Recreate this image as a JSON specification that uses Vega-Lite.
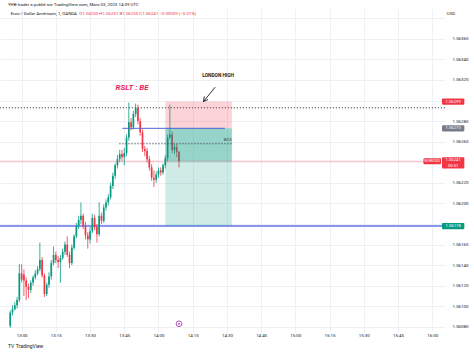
{
  "$schema": "https://vega.github.io/schema/vega-lite/v6.json",
  "width": 445,
  "height": 323,
  "autosize": {"type": "none"},
  "padding": {"left": 0, "top": 9, "right": 29, "bottom": 21},
  "background": "#ffffff",
  "config": {"view": {"stroke": null}, "font": "Roboto"},
  "resolve": {"axis": {"x": "independent", "y": "independent"}},
  "datasets": {
    "candles": [
      {"time": "12:55", "m": -5, "o": 1.06081, "h": 1.06096, "l": 1.06079, "c": 1.06094},
      {"time": "12:56", "m": -4, "o": 1.06094, "h": 1.06101, "l": 1.06091, "c": 1.06097},
      {"time": "12:57", "m": -3, "o": 1.06097, "h": 1.06104, "l": 1.06096, "c": 1.06101},
      {"time": "12:58", "m": -2, "o": 1.06101, "h": 1.06109, "l": 1.06098, "c": 1.06106},
      {"time": "12:59", "m": -1, "o": 1.06106, "h": 1.06141, "l": 1.06104, "c": 1.06132},
      {"time": "13:00", "m": 0, "o": 1.06132, "h": 1.06141, "l": 1.06123, "c": 1.06126},
      {"time": "13:01", "m": 1, "o": 1.06131, "h": 1.06136, "l": 1.0611, "c": 1.06125},
      {"time": "13:02", "m": 2, "o": 1.06125, "h": 1.06128, "l": 1.06106, "c": 1.06119},
      {"time": "13:03", "m": 3, "o": 1.06119, "h": 1.06122, "l": 1.06108, "c": 1.06116},
      {"time": "13:04", "m": 4, "o": 1.06116, "h": 1.06125, "l": 1.06113, "c": 1.06123},
      {"time": "13:05", "m": 5, "o": 1.06123, "h": 1.0613, "l": 1.0612, "c": 1.06128},
      {"time": "13:06", "m": 6, "o": 1.06128, "h": 1.06135, "l": 1.06126, "c": 1.06132},
      {"time": "13:07", "m": 7, "o": 1.06132, "h": 1.06139, "l": 1.0613, "c": 1.06136},
      {"time": "13:08", "m": 8, "o": 1.06136, "h": 1.06162, "l": 1.06134, "c": 1.06145},
      {"time": "13:09", "m": 9, "o": 1.06145, "h": 1.06148, "l": 1.06128, "c": 1.0613},
      {"time": "13:10", "m": 10, "o": 1.0613, "h": 1.06132, "l": 1.06109, "c": 1.06112},
      {"time": "13:11", "m": 11, "o": 1.06112, "h": 1.06123, "l": 1.0611, "c": 1.06121},
      {"time": "13:12", "m": 12, "o": 1.06121, "h": 1.06133, "l": 1.06118, "c": 1.06129},
      {"time": "13:13", "m": 13, "o": 1.06129, "h": 1.06145, "l": 1.06126, "c": 1.06142},
      {"time": "13:14", "m": 14, "o": 1.06142, "h": 1.06158, "l": 1.0614, "c": 1.0615},
      {"time": "13:15", "m": 15, "o": 1.0615, "h": 1.06153, "l": 1.06142, "c": 1.06145},
      {"time": "13:16", "m": 16, "o": 1.06145, "h": 1.06149, "l": 1.06137, "c": 1.06143},
      {"time": "13:17", "m": 17, "o": 1.06143, "h": 1.0615, "l": 1.06123, "c": 1.06147},
      {"time": "13:18", "m": 18, "o": 1.06147, "h": 1.06156, "l": 1.06145, "c": 1.06153},
      {"time": "13:19", "m": 19, "o": 1.06153, "h": 1.06163, "l": 1.0615, "c": 1.0616},
      {"time": "13:20", "m": 20, "o": 1.0616, "h": 1.06168, "l": 1.06148, "c": 1.0615},
      {"time": "13:21", "m": 21, "o": 1.0615, "h": 1.06153, "l": 1.06137, "c": 1.06142},
      {"time": "13:22", "m": 22, "o": 1.06142, "h": 1.0616, "l": 1.0614, "c": 1.06157},
      {"time": "13:23", "m": 23, "o": 1.06157, "h": 1.0617, "l": 1.06155, "c": 1.06168},
      {"time": "13:24", "m": 24, "o": 1.06168, "h": 1.06181, "l": 1.06166, "c": 1.06178},
      {"time": "13:25", "m": 25, "o": 1.06178, "h": 1.06188, "l": 1.06175, "c": 1.06184},
      {"time": "13:26", "m": 26, "o": 1.06184, "h": 1.06201, "l": 1.0618, "c": 1.06188},
      {"time": "13:27", "m": 27, "o": 1.06188, "h": 1.0619, "l": 1.06175, "c": 1.06178},
      {"time": "13:28", "m": 28, "o": 1.06178, "h": 1.06182, "l": 1.06165, "c": 1.06169},
      {"time": "13:29", "m": 29, "o": 1.06169, "h": 1.06172, "l": 1.06156, "c": 1.06165},
      {"time": "13:30", "m": 30, "o": 1.06165, "h": 1.06177, "l": 1.06161, "c": 1.06173},
      {"time": "13:31", "m": 31, "o": 1.06173, "h": 1.0619, "l": 1.06171, "c": 1.06186},
      {"time": "13:32", "m": 32, "o": 1.06186, "h": 1.06189, "l": 1.06174, "c": 1.06177},
      {"time": "13:33", "m": 33, "o": 1.06177, "h": 1.0618, "l": 1.06162, "c": 1.0617},
      {"time": "13:34", "m": 34, "o": 1.0617, "h": 1.06201, "l": 1.06168, "c": 1.06188},
      {"time": "13:35", "m": 35, "o": 1.06188, "h": 1.06191, "l": 1.0618, "c": 1.06183},
      {"time": "13:36", "m": 36, "o": 1.06183, "h": 1.06199, "l": 1.06181, "c": 1.06196},
      {"time": "13:37", "m": 37, "o": 1.06196, "h": 1.06204, "l": 1.06193, "c": 1.06201},
      {"time": "13:38", "m": 38, "o": 1.06201, "h": 1.06209, "l": 1.06198, "c": 1.06206},
      {"time": "13:39", "m": 39, "o": 1.06206, "h": 1.0622, "l": 1.06204, "c": 1.06217},
      {"time": "13:40", "m": 40, "o": 1.06217, "h": 1.0623, "l": 1.06214, "c": 1.06227},
      {"time": "13:41", "m": 41, "o": 1.06227, "h": 1.06239, "l": 1.06224, "c": 1.06237},
      {"time": "13:42", "m": 42, "o": 1.06237, "h": 1.06247, "l": 1.06234, "c": 1.06243},
      {"time": "13:43", "m": 43, "o": 1.06243, "h": 1.06252, "l": 1.0624, "c": 1.06248},
      {"time": "13:44", "m": 44, "o": 1.06248, "h": 1.06252, "l": 1.06241, "c": 1.06245},
      {"time": "13:45", "m": 45, "o": 1.06245, "h": 1.06254, "l": 1.06237, "c": 1.06249},
      {"time": "13:46", "m": 46, "o": 1.06249, "h": 1.06267, "l": 1.06246, "c": 1.06264},
      {"time": "13:47", "m": 47, "o": 1.06264, "h": 1.06298, "l": 1.06261, "c": 1.06279},
      {"time": "13:48", "m": 48, "o": 1.06279, "h": 1.06283, "l": 1.06271, "c": 1.06274},
      {"time": "13:49", "m": 49, "o": 1.06274, "h": 1.0629, "l": 1.06272, "c": 1.06287},
      {"time": "13:50", "m": 50, "o": 1.06287, "h": 1.06297, "l": 1.06284, "c": 1.06293},
      {"time": "13:51", "m": 51, "o": 1.06293, "h": 1.06296, "l": 1.06277, "c": 1.0628},
      {"time": "13:52", "m": 52, "o": 1.0628, "h": 1.06283, "l": 1.06266, "c": 1.06269},
      {"time": "13:53", "m": 53, "o": 1.06269, "h": 1.06272, "l": 1.0625, "c": 1.06253},
      {"time": "13:54", "m": 54, "o": 1.06253, "h": 1.06256, "l": 1.06246, "c": 1.06251},
      {"time": "13:55", "m": 55, "o": 1.06251, "h": 1.06254, "l": 1.0624, "c": 1.06243},
      {"time": "13:56", "m": 56, "o": 1.06243, "h": 1.06246, "l": 1.06232, "c": 1.06235},
      {"time": "13:57", "m": 57, "o": 1.06235, "h": 1.06238, "l": 1.06222, "c": 1.06225},
      {"time": "13:58", "m": 58, "o": 1.06225, "h": 1.06232, "l": 1.06216, "c": 1.06223},
      {"time": "13:59", "m": 59, "o": 1.06223, "h": 1.06231, "l": 1.0622, "c": 1.06228},
      {"time": "14:00", "m": 60, "o": 1.06228, "h": 1.06235, "l": 1.06225, "c": 1.06232},
      {"time": "14:01", "m": 61, "o": 1.06232, "h": 1.06235, "l": 1.06227, "c": 1.0623},
      {"time": "14:02", "m": 62, "o": 1.0623, "h": 1.06239, "l": 1.06228, "c": 1.06237},
      {"time": "14:03", "m": 63, "o": 1.06237, "h": 1.06247, "l": 1.06234, "c": 1.06244},
      {"time": "14:04", "m": 64, "o": 1.06244, "h": 1.06267, "l": 1.06241, "c": 1.06264},
      {"time": "14:05", "m": 65, "o": 1.06264, "h": 1.06296, "l": 1.06262, "c": 1.06267},
      {"time": "14:06", "m": 66, "o": 1.06267, "h": 1.0627, "l": 1.06249, "c": 1.06252},
      {"time": "14:07", "m": 67, "o": 1.06252, "h": 1.06258, "l": 1.06248, "c": 1.06255},
      {"time": "14:08", "m": 68, "o": 1.06255, "h": 1.06258, "l": 1.06245, "c": 1.0625},
      {"time": "14:09", "m": 69, "o": 1.0625, "h": 1.06251, "l": 1.06235, "c": 1.06241}
    ]
  },
  "layer": [
    {
      "data": {"values": [{"p": 1.06178}]},
      "mark": {"type": "rule", "color": "#8a97f0", "strokeWidth": 2},
      "encoding": {
        "y": {"field": "p", "type": "quantitative",
          "scale": {"domain": [1.06075, 1.06389], "zero": false, "nice": false},
          "axis": {"orient": "right", "title": null, "values": [1.0608, 1.061, 1.0612, 1.0614, 1.0616, 1.0618, 1.062, 1.0622, 1.0624, 1.0626, 1.0628, 1.063, 1.0632, 1.0634, 1.0636, 1.0638],
            "labelExpr": "(datum.value > 1.06375 || abs(datum.value - 1.063) < 0.00001 || abs(datum.value - 1.0624) < 0.00001 || abs(datum.value - 1.0618) < 0.00001) ? '' : format(datum.value, '.5f')",
            "domain": false, "ticks": false, "grid": true, "gridColor": "#eef0f5", "gridWidth": 1,
            "labelFont": "Roboto", "labelFontSize": 4.4, "labelColor": "#131722", "labelPadding": 7, "labelAlign": "left", "labelBaseline": "middle", "labelOverlap": false, "zindex": 0}}
      }
    },
    {
      "data": {"values": [{"p": 1.06293}]},
      "mark": {"type": "rule", "color": "#434651", "strokeWidth": 1, "strokeDash": [1.2, 1.8]},
      "encoding": {"y": {"field": "p", "type": "quantitative", "axis": null}}
    },
    {
      "data": {"values": [{"p": 1.06241}]},
      "mark": {"type": "rule", "color": "#f23645", "strokeWidth": 0.8, "opacity": 0.45},
      "encoding": {"y": {"field": "p", "type": "quantitative", "axis": null}}
    },
    {
      "data": {"name": "candles"},
      "mark": {"type": "rule", "strokeWidth": 0.8},
      "encoding": {
        "x": {"field": "m", "type": "quantitative",
          "scale": {"domain": [-7.29, 183.43], "zero": false, "nice": false},
          "axis": {"orient": "bottom", "title": null, "values": [0, 15, 30, 45, 60, 75, 90, 105, 120, 135, 150, 165, 180],
            "labelExpr": "(13 + floor(datum.value / 60)) + ':' + (datum.value % 60 < 10 ? '0' : '') + (datum.value % 60)",
            "domain": false, "ticks": false, "grid": true, "gridColor": "#eef0f5", "gridWidth": 1,
            "labelFont": "Roboto", "labelFontSize": 4.4, "labelColor": "#131722", "labelPadding": 1, "labelOverlap": false, "labelFlush": false, "zindex": 0}},
        "y": {"field": "l", "type": "quantitative", "axis": null},
        "y2": {"field": "h"},
        "color": {"condition": {"test": "datum.c >= datum.o", "value": "#089981"}, "value": "#f23645"}
      }
    },
    {
      "data": {"name": "candles"},
      "mark": {"type": "bar", "width": 1.7},
      "encoding": {
        "x": {"field": "m", "type": "quantitative", "axis": null},
        "y": {"field": "o", "type": "quantitative", "axis": null},
        "y2": {"field": "c"},
        "color": {"condition": {"test": "datum.c >= datum.o", "value": "#089981"}, "value": "#f23645"}
      }
    },
    {
      "data": {"values": [
        {"m": 63, "m2": 92.17, "p": 1.06273, "p2": 1.06299, "zone": "stop"},
        {"m": 63, "m2": 92.17, "p": 1.06178, "p2": 1.06273, "zone": "target"},
        {"m": 63, "m2": 92.17, "p": 1.06241, "p2": 1.06273, "zone": "running"}
      ]},
      "mark": {"type": "rect"},
      "encoding": {
        "x": {"field": "m", "type": "quantitative", "axis": null},
        "x2": {"field": "m2"},
        "y": {"field": "p", "type": "quantitative", "axis": null},
        "y2": {"field": "p2"},
        "fill": {"field": "zone", "type": "nominal", "legend": null,
          "scale": {"domain": ["stop", "target", "running"], "range": ["rgba(242,54,69,0.22)", "rgba(8,153,129,0.2)", "rgba(8,153,129,0.28)"]}}
      }
    },
    {
      "data": {"values": [{"m": 44.15, "m2": 89.15, "p": 1.06273}]},
      "mark": {"type": "rule", "color": "#4f62d6", "strokeWidth": 1},
      "encoding": {"x": {"field": "m", "type": "quantitative", "axis": null}, "x2": {"field": "m2"}, "y": {"field": "p", "type": "quantitative", "axis": null}}
    },
    {
      "data": {"values": [{"m": 42.85, "m2": 92.17, "p": 1.06258}]},
      "mark": {"type": "rule", "color": "#434651", "strokeWidth": 1, "strokeDash": [1.2, 1.8]},
      "encoding": {"x": {"field": "m", "type": "quantitative", "axis": null}, "x2": {"field": "m2"}, "y": {"field": "p", "type": "quantitative", "axis": null}}
    },
    {
      "data": {"values": [{"m": 90.43, "p": 1.06262, "label": "BOS"}]},
      "mark": {"type": "text", "fontSize": 4.3, "color": "#434651", "align": "center", "baseline": "middle", "font": "Roboto"},
      "encoding": {"x": {"field": "m", "type": "quantitative", "axis": null}, "y": {"field": "p", "type": "quantitative", "axis": null}, "text": {"field": "label"}}
    },
    {
      "data": {"values": [{"m": 48.43, "p": 1.06312, "label": "RSLT : BE"}]},
      "mark": {"type": "text", "fontSize": 8, "fontWeight": "bold", "fontStyle": "italic", "color": "#e91e63", "align": "center", "baseline": "middle", "font": "Roboto"},
      "encoding": {"x": {"field": "m", "type": "quantitative", "axis": null}, "y": {"field": "p", "type": "quantitative", "axis": null}, "text": {"field": "label"}}
    },
    {
      "data": {"values": [{"m": 86.15, "p": 1.06324, "label": "LONDON HIGH"}]},
      "mark": {"type": "text", "fontSize": 4.8, "fontWeight": "bold", "color": "#131722", "align": "center", "baseline": "middle", "font": "Roboto"},
      "encoding": {"x": {"field": "m", "type": "quantitative", "axis": null}, "y": {"field": "p", "type": "quantitative", "axis": null}, "text": {"field": "label"}}
    },
    {
      "data": {"values": [
        {"m": 84.85, "p": 1.06313, "m2": 79.72, "p2": 1.06299},
        {"m": 79.72, "p": 1.06299, "m2": 81.72, "p2": 1.06301},
        {"m": 79.72, "p": 1.06299, "m2": 80.1, "p2": 1.06304}
      ]},
      "mark": {"type": "rule", "color": "#131722", "strokeWidth": 0.9},
      "encoding": {"x": {"field": "m", "type": "quantitative", "axis": null}, "x2": {"field": "m2"}, "y": {"field": "p", "type": "quantitative", "axis": null}, "y2": {"field": "p2"}}
    },
    {
      "data": {"values": [
        {"m": 184.3, "m2": 194.1, "p": 1.06296, "p2": 1.06302, "kind": "stop"},
        {"m": 184.3, "m2": 194.1, "p": 1.0627, "p2": 1.06276, "kind": "entry"},
        {"m": 184.3, "m2": 194.1, "p": 1.06234, "p2": 1.06245, "kind": "last"},
        {"m": 176.17, "m2": 183.87, "p": 1.06238, "p2": 1.06244, "kind": "symbol"},
        {"m": 184.3, "m2": 194.1, "p": 1.06175, "p2": 1.06181, "kind": "target"}
      ]},
      "mark": {"type": "rect", "cornerRadius": 0.8},
      "encoding": {
        "x": {"field": "m", "type": "quantitative", "axis": null},
        "x2": {"field": "m2"},
        "y": {"field": "p", "type": "quantitative", "axis": null},
        "y2": {"field": "p2"},
        "color": {"field": "kind", "type": "nominal", "legend": null,
          "scale": {"domain": ["stop", "entry", "last", "symbol", "target"], "range": ["#f23645", "#787b86", "#f23645", "#f23645", "#089981"]}}
      }
    },
    {
      "data": {"values": [
        {"m": 189.2, "p": 1.06299, "label": "1.06299"},
        {"m": 189.2, "p": 1.06273, "label": "1.06273"},
        {"m": 189.2, "p": 1.06242, "label": "1.06241"},
        {"m": 189.2, "p": 1.06236, "label": "00:51"},
        {"m": 180.02, "p": 1.06241, "label": "EURUSD"},
        {"m": 189.2, "p": 1.06178, "label": "1.06178"}
      ]},
      "mark": {"type": "text", "fontSize": 4.2, "color": "#ffffff", "align": "center", "baseline": "middle", "font": "Roboto"},
      "encoding": {"x": {"field": "m", "type": "quantitative", "axis": null}, "y": {"field": "p", "type": "quantitative", "axis": null}, "text": {"field": "label"}}
    },
    {
      "data": {"values": [
        {"m": -6.0, "p": 1.06393, "label": "YHB-trader a publié sur TradingView.com, Mars 03, 2023 14:09 UTC", "part": "header"},
        {"m": -4.72, "p": 1.06384, "label": "Euro / Dollar Américain, 1, OANDA", "part": "name"},
        {"m": 25.28, "p": 1.06384, "label": "O1.06250 H1.06251 B1.06235 C1.06241 −0.00009 (−0.01%)", "part": "values"}
      ]},
      "mark": {"type": "text", "fontSize": 4.4, "align": "left", "baseline": "middle", "font": "Roboto"},
      "encoding": {"x": {"field": "m", "type": "quantitative", "axis": null}, "y": {"field": "p", "type": "quantitative", "axis": null}, "text": {"field": "label"},
        "color": {"condition": {"test": "datum.part == 'values'", "value": "#f23645"}, "value": "#131722"}}
    },
    {
      "data": {"values": [{"m": 186.43, "p": 1.06384, "label": "USD"}]},
      "mark": {"type": "text", "fontSize": 4.4, "color": "#131722", "align": "left", "baseline": "middle", "font": "Roboto"},
      "encoding": {"x": {"field": "m", "type": "quantitative", "axis": null}, "y": {"field": "p", "type": "quantitative", "axis": null}, "text": {"field": "label"}}
    },
    {
      "data": {"values": [
        {"m": -6, "p": 1.06061, "label": "TV", "w": "logo"},
        {"m": -2.57, "p": 1.06061, "label": "TradingView", "w": "name"}
      ]},
      "mark": {"type": "text", "fontSize": 5, "color": "#131722", "align": "left", "baseline": "middle", "font": "Roboto"},
      "encoding": {"x": {"field": "m", "type": "quantitative", "axis": null}, "y": {"field": "p", "type": "quantitative", "axis": null}, "text": {"field": "label"},
        "fontWeight": {"condition": {"test": "datum.w == 'logo'", "value": "bold"}, "value": "normal"}}
    },
    {
      "data": {"values": [{"m": 69, "p": 1.06083}]},
      "mark": {"type": "point", "shape": "circle", "size": 32, "stroke": "#9c27b0", "fill": "#ffffff", "filled": false, "strokeWidth": 0.8, "opacity": 1},
      "encoding": {"x": {"field": "m", "type": "quantitative", "axis": null}, "y": {"field": "p", "type": "quantitative", "axis": null}}
    },
    {
      "data": {"values": [{"m": 69, "p": 1.06083}]},
      "mark": {"type": "point", "shape": "circle", "size": 3, "fill": "#9c27b0", "filled": true, "opacity": 1},
      "encoding": {"x": {"field": "m", "type": "quantitative", "axis": null}, "y": {"field": "p", "type": "quantitative", "axis": null}}
    }
  ]
}
